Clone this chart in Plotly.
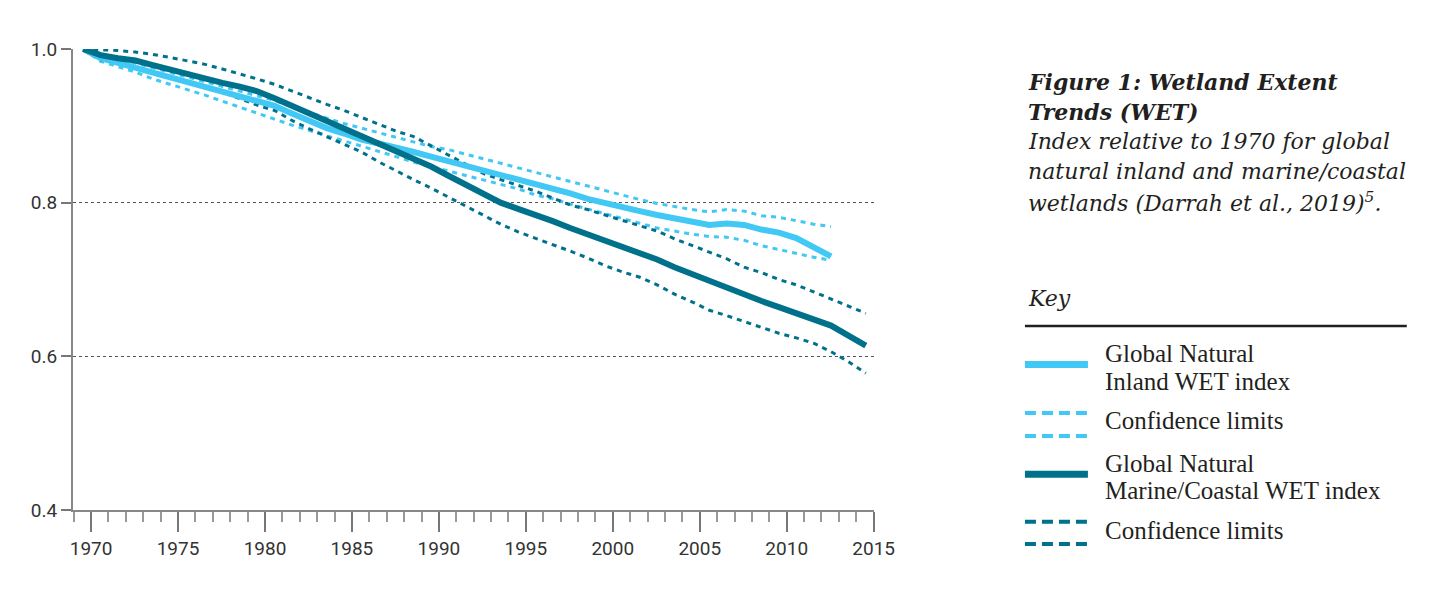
import plotly.graph_objects as go

# data (index relative to 1970)
marine_years = list(range(1970, 2016))
inland_years = list(range(1970, 2014))

inland_index = [1.000, 0.988, 0.982, 0.975, 0.969, 0.963, 0.957, 0.951, 0.945, 0.939,
                0.932, 0.926, 0.916, 0.906, 0.897, 0.890, 0.882, 0.877, 0.872, 0.866,
                0.860, 0.854, 0.848, 0.843, 0.837, 0.832, 0.826, 0.819, 0.812, 0.805,
                0.799, 0.794, 0.789, 0.784, 0.779, 0.775, 0.771, 0.773, 0.771, 0.765,
                0.761, 0.754, 0.742, 0.730]
inland_upper = [1.000, 0.994, 0.988, 0.982, 0.976, 0.970, 0.964, 0.958, 0.952, 0.946,
                0.940, 0.933, 0.925, 0.917, 0.910, 0.903, 0.897, 0.891, 0.885, 0.879,
                0.873, 0.869, 0.863, 0.857, 0.852, 0.845, 0.839, 0.833, 0.827, 0.821,
                0.815, 0.809, 0.804, 0.799, 0.795, 0.791, 0.788, 0.791, 0.789, 0.783,
                0.781, 0.776, 0.772, 0.769]
inland_lower = [1.000, 0.984, 0.977, 0.970, 0.961, 0.954, 0.947, 0.940, 0.932, 0.924,
                0.916, 0.908, 0.901, 0.894, 0.887, 0.880, 0.873, 0.866, 0.859, 0.853,
                0.847, 0.841, 0.835, 0.830, 0.823, 0.818, 0.810, 0.805, 0.798, 0.792,
                0.786, 0.779, 0.774, 0.767, 0.763, 0.759, 0.756, 0.755, 0.751, 0.744,
                0.739, 0.734, 0.729, 0.725]

marine_index = [1.000, 0.992, 0.988, 0.985, 0.979, 0.973, 0.967, 0.962, 0.956, 0.951,
                0.945, 0.936, 0.926, 0.917, 0.908, 0.898, 0.888, 0.878, 0.868, 0.858,
                0.847, 0.835, 0.823, 0.810, 0.800, 0.792, 0.785, 0.776, 0.767, 0.759,
                0.750, 0.743, 0.736, 0.726, 0.716, 0.707, 0.698, 0.688, 0.679, 0.672,
                0.664, 0.656, 0.649, 0.640, 0.627, 0.614]
marine_upper = [1.000, 0.999, 0.998, 0.996, 0.993, 0.989, 0.984, 0.980, 0.974, 0.968,
                0.961, 0.954, 0.945, 0.937, 0.928, 0.920, 0.911, 0.901, 0.893, 0.886,
                0.874, 0.861, 0.849, 0.838, 0.830, 0.823, 0.815, 0.806, 0.797, 0.791,
                0.784, 0.778, 0.771, 0.763, 0.753, 0.744, 0.735, 0.727, 0.716, 0.709,
                0.700, 0.693, 0.684, 0.675, 0.666, 0.656]
marine_lower = [1.000, 0.986, 0.982, 0.976, 0.970, 0.963, 0.957, 0.951, 0.944, 0.935,
                0.927, 0.920, 0.907, 0.896, 0.886, 0.877, 0.866, 0.853, 0.841, 0.830,
                0.819, 0.807, 0.795, 0.784, 0.772, 0.762, 0.754, 0.746, 0.737, 0.728,
                0.718, 0.710, 0.703, 0.693, 0.681, 0.671, 0.660, 0.653, 0.645, 0.638,
                0.630, 0.624, 0.617, 0.606, 0.593, 0.578]

x_tick_labels = [1970, 1975, 1980, 1985, 1990, 1995, 2000, 2005, 2010, 2015]
y_tick_values = [0.4, 0.6, 0.8, 1.0]

title_lines = ['Figure 1: Wetland Extent', 'Trends (WET)']
subtitle_lines = ['Index relative to 1970 for global',
                  'natural inland and marine/coastal',
                  'wetlands (Darrah et al., 2019)<sup>5</sup>.']
key_labels = [['Global Natural', 'Inland WET index'],
              ['Confidence limits'],
              ['Global Natural', 'Marine/Coastal WET index'],
              ['Confidence limits']]

LIGHT = '#41c8f4'
DARK = '#00718b'
TEXT = '#231f20'
AXIS_FONT = 'Roboto, Liberation Sans, sans-serif'

# page geometry: the page body adds an 8px margin, so positions read from
# the screenshot are shifted back by OFF
W, H = 1456, 592
OFF = 8
BOX_L, BOX_R, BOX_T, BOX_B = 72.7, 874, 49.3, 510
L, T = BOX_L - OFF, BOX_T - OFF
R, B = W - (BOX_R - OFF), H - (BOX_B - OFF)
TICK_SHIFT = 0.45  # year labels sit a little right of the data points


def px_x(px):
    return (px - BOX_L) / (BOX_R - BOX_L)


def px_y(py):
    return (BOX_B - py) / (BOX_B - BOX_T)


fig = go.Figure()

dash = '5px,5px'
for ys, xs, color in [(inland_upper, inland_years, LIGHT),
                      (inland_lower, inland_years, LIGHT),
                      (marine_upper, marine_years, DARK),
                      (marine_lower, marine_years, DARK)]:
    fig.add_trace(go.Scatter(x=xs, y=ys, mode='lines',
                             line=dict(color=color, width=3, dash=dash),
                             hoverinfo='skip', showlegend=False))

fig.add_trace(go.Scatter(x=inland_years, y=inland_index, mode='lines',
                         line=dict(color=LIGHT, width=6),
                         name='Global Natural Inland WET index', showlegend=False))
fig.add_trace(go.Scatter(x=marine_years, y=marine_index, mode='lines',
                         line=dict(color=DARK, width=6),
                         name='Global Natural Marine/Coastal WET index', showlegend=False))

fig.update_layout(
    width=W, height=H,
    margin=dict(l=L, r=R, t=T, b=B, pad=0),
    paper_bgcolor='white', plot_bgcolor='white',
    font=dict(family=AXIS_FONT, size=19, color='#333'),
    xaxis=dict(
        range=[1969.41, 2015.47],
        tickvals=[v + TICK_SHIFT for v in x_tick_labels],
        ticktext=[str(v) for v in x_tick_labels],
        ticks='outside', ticklen=20, tickwidth=1.5, tickcolor='#777',
        minor=dict(tick0=1970 + TICK_SHIFT, dtick=1, ticks='outside',
                   ticklen=10, tickwidth=1.5, tickcolor='#999', showgrid=False),
        showline=True, linecolor='#888', linewidth=2,
        showgrid=False, zeroline=False, fixedrange=True,
    ),
    yaxis=dict(
        range=[0.4, 1.0],
        tickvals=y_tick_values,
        ticktext=['%.1f' % v for v in y_tick_values],
        ticks='outside', ticklen=10, tickwidth=1.5, tickcolor='#777',
        showline=True, linecolor='#888', linewidth=2,
        showgrid=True, gridcolor='#555', gridwidth=1, griddash='dot',
        zeroline=False, fixedrange=True,
    ),
)

# right-hand caption
annotations = []
for i, line in enumerate(title_lines):
    annotations.append(dict(text='<b><i>%s</i></b>' % line, x=px_x(1026), y=px_y(89 + 30 * i - 7),
                            font=dict(family='DejaVu Serif', size=22, color=TEXT)))
for i, line in enumerate(subtitle_lines):
    annotations.append(dict(text='<i>%s</i>' % line, x=px_x(1026), y=px_y(149 + 30 * i - 7),
                            font=dict(family='DejaVu Serif', size=22, color=TEXT)))
annotations.append(dict(text='<i>Key</i>', x=px_x(1026), y=px_y(306 - 7),
                        font=dict(family='DejaVu Serif', size=22, color=TEXT)))

key_rows = [(364.7, 'solid', LIGHT), (413, 'dash', LIGHT), (436, 'dash', LIGHT),
            (474.3, 'solid', DARK), (521.7, 'dash', DARK), (544, 'dash', DARK)]
shapes = [dict(type='line', xref='paper', yref='paper', x0=px_x(1025), x1=px_x(1407),
               y0=px_y(326), y1=px_y(326), line=dict(color=TEXT, width=2.5))]
for py, kind, color in key_rows:
    shapes.append(dict(type='line', xref='paper', yref='paper',
                       x0=px_x(1025), x1=px_x(1088), y0=px_y(py), y1=px_y(py),
                       line=dict(color=color, width=7 if kind == 'solid' else 4,
                                 dash='solid' if kind == 'solid' else '11px,6px')))

label_baselines = [[361.7, 389.3], [428.3], [471.7, 498.3], [538.3]]
for lines, bases in zip(key_labels, label_baselines):
    for line, base in zip(lines, bases):
        annotations.append(dict(text=line, x=px_x(1103), y=px_y(base - 8),
                                font=dict(family='Liberation Serif', size=25, color=TEXT)))

for a in annotations:
    a.update(xref='paper', yref='paper', xanchor='left', yanchor='middle', showarrow=False)

fig.update_layout(annotations=annotations, shapes=shapes)

fig.write_html('out.html')
